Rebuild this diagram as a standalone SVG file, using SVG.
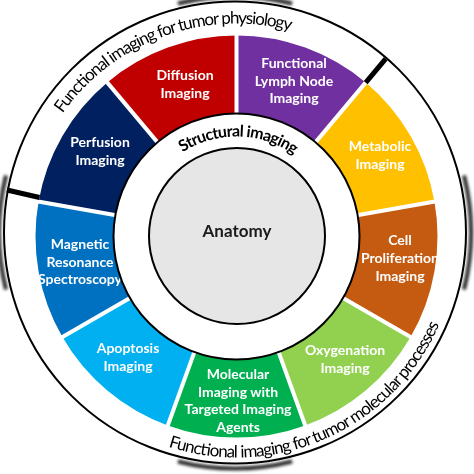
<svg xmlns="http://www.w3.org/2000/svg" width="474" height="474" viewBox="0 0 474 474">
<style>
.lbl{font-family:Lato,"Open Sans","Liberation Sans",sans-serif;font-weight:bold;font-size:14px;fill:#fff;text-anchor:middle}
.ring{font-family:Lato,"Open Sans","Liberation Sans",sans-serif;font-size:17px;fill:#000}
.sep{stroke:#fff;stroke-width:4;fill:none}
.blk{stroke:#000;stroke-width:5;fill:none}
.halo{stroke:#000;stroke-width:4;fill:none;opacity:0.85}
</style>
<defs>
<filter id="blur" filterUnits="userSpaceOnUse" x="-20" y="-20" width="514" height="514"><feGaussianBlur stdDeviation="1.6"/></filter>
<path id="arcTop" d="M26.74 199.52 A213 213 0 0 1 373.41 73.34"/>
<path id="arcBot" d="M18.86 198.13 A221 221 0 1 0 378.56 67.21"/>
<path id="arcStruct" d="M149.9 186.5 A100 100 0 0 1 323.1 186.5"/>
</defs>
<rect width="474" height="474" fill="#fff"/>
<g id="halo" filter="url(#blur)">
<path class="halo" d="M177.9 3.5 A236 236 0 0 1 292.1 3.5"/>
<path class="halo" d="M464 175.4 A236 236 0 0 1 464 289.6"/>
<path class="halo" d="M292.1 461.5 A236 236 0 0 1 177.9 461.5"/>
<path class="halo" d="M6 289.6 A236 236 0 0 1 6 175.4"/>
</g>
<g id="outer-ring">
<circle cx="235" cy="232.5" r="231" fill="#fff" stroke="#000" stroke-width="2"/>
<text class="ring"><textPath href="#arcTop" startOffset="50%" text-anchor="middle" textLength="258">Functional imaging for tumor physiology</textPath></text>
<text class="ring"><textPath href="#arcBot" startOffset="51.8%" text-anchor="middle" textLength="326">Functional imaging for tumor molecular processes</textPath></text>
</g>
<g id="diffusion">
<path d="M107.3 82.53 A201 201 0 0 1 236.5 35.5 L236.5 116.5 A120 120 0 0 0 159.36 144.58 Z" fill="#C00000"/>
<text class="lbl" x="185" y="80">Diffusion</text>
<text class="lbl" x="185" y="98">Imaging</text>
</g>
<g id="lymph">
<path d="M236.5 35.5 A201 201 0 0 1 365.7 82.53 L313.64 144.58 A120 120 0 0 0 236.5 116.5 Z" fill="#7030A0"/>
<text class="lbl" x="294" y="68">Functional</text>
<text class="lbl" x="294" y="85.5">Lymph Node</text>
<text class="lbl" x="294" y="103">Imaging</text>
</g>
<g id="metabolic">
<path d="M365.7 82.53 A201 201 0 0 1 434.44 201.61 L354.68 215.67 A120 120 0 0 0 313.64 144.58 Z" fill="#FFC000"/>
<text class="lbl" x="380" y="151">Metabolic</text>
<text class="lbl" x="380" y="169">Imaging</text>
</g>
<g id="cell">
<path d="M434.44 201.61 A201 201 0 0 1 410.57 337 L340.42 296.5 A120 120 0 0 0 354.68 215.67 Z" fill="#C55A11"/>
<text class="lbl" x="400" y="245">Cell</text>
<text class="lbl" x="400" y="263">Proliferation</text>
<text class="lbl" x="400" y="281">Imaging</text>
</g>
<g id="oxygenation">
<path d="M410.57 337 A201 201 0 0 1 305.24 425.38 L277.54 349.26 A120 120 0 0 0 340.42 296.5 Z" fill="#92D050"/>
<text class="lbl" x="345" y="355">Oxygenation</text>
<text class="lbl" x="345" y="373">Imaging</text>
</g>
<g id="molecular">
<path d="M305.24 425.38 A201 201 0 0 1 167.76 425.38 L195.46 349.26 A120 120 0 0 0 277.54 349.26 Z" fill="#00B050"/>
<text class="lbl" x="238" y="379">Molecular</text>
<text class="lbl" x="238" y="396.5">Imaging with</text>
<text class="lbl" x="238" y="414">Targeted Imaging</text>
<text class="lbl" x="238" y="431.5">Agents</text>
</g>
<g id="apoptosis">
<path d="M167.76 425.38 A201 201 0 0 1 62.43 337 L132.58 296.5 A120 120 0 0 0 195.46 349.26 Z" fill="#00B0F0"/>
<text class="lbl" x="128" y="353">Apoptosis</text>
<text class="lbl" x="128" y="371">Imaging</text>
</g>
<g id="mrs">
<path d="M62.43 337 A201 201 0 0 1 38.56 201.61 L118.32 215.67 A120 120 0 0 0 132.58 296.5 Z" fill="#0070C0"/>
<text class="lbl" x="80" y="249">Magnetic</text>
<text class="lbl" x="80" y="267">Resonance</text>
<text class="lbl" x="80" y="284">Spectroscopy</text>
</g>
<g id="perfusion">
<path d="M38.56 201.61 A201 201 0 0 1 107.3 82.53 L159.36 144.58 A120 120 0 0 0 118.32 215.67 Z" fill="#002060"/>
<text class="lbl" x="100" y="147">Perfusion</text>
<text class="lbl" x="100" y="165">Imaging</text>
</g>
<g id="separators">
<line class="sep" x1="236.5" y1="32" x2="236.5" y2="118"/>
<line class="sep" x1="367.9" y1="79.9" x2="312.3" y2="146.1"/>
<line class="sep" x1="437.9" y1="201" x2="352.7" y2="216"/>
<line class="sep" x1="413.6" y1="338.8" x2="338.7" y2="295.5"/>
<line class="sep" x1="306.4" y1="428.7" x2="276.9" y2="347.4"/>
<line class="sep" x1="166.6" y1="428.7" x2="196.1" y2="347.4"/>
<line class="sep" x1="59.4" y1="338.8" x2="134.3" y2="295.5"/>
<line class="sep" x1="35.1" y1="201" x2="120.3" y2="216"/>
<line class="sep" x1="105.1" y1="79.9" x2="160.7" y2="146.1"/>
<line class="blk" x1="365.7" y1="82.53" x2="385.6" y2="58.8"/>
<line class="blk" x1="39.5" y1="197.5" x2="7" y2="190"/>
</g>
<g id="structural">
<circle cx="236.5" cy="236.5" r="123" fill="#fff" stroke="#000" stroke-width="2"/>
<text class="ring" style="font-weight:bold;font-size:16px"><textPath href="#arcStruct" startOffset="51%" text-anchor="middle" textLength="118">Structural imaging</textPath></text>
</g>
<g id="anatomy">
<circle cx="237" cy="236" r="88" fill="#E6E6E6" stroke="#000" stroke-width="2"/>
<text x="237" y="237" style="font-family:Lato,'Open Sans','Liberation Sans',sans-serif;font-weight:bold;font-size:17px;fill:#1a1a1a;text-anchor:middle">Anatomy</text>
</g>
</svg>
